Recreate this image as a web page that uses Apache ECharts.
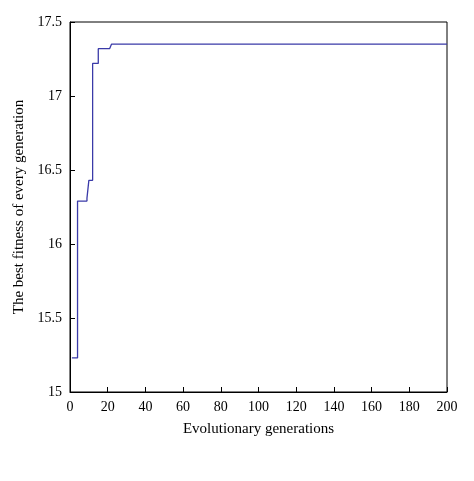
<!DOCTYPE html>
<html><head><meta charset="utf-8">
<script src="https://cdn.jsdelivr.net/npm/echarts@6/dist/echarts.min.js"></script>
<style>html,body{margin:0;background:#fff}#c{width:474px;height:481px}</style>
</head><body><div id="c"></div>
<script>
// generation where the best fitness changes, and the value it takes
var generations = [1, 4, 9, 10, 12, 15, 21, 22, 200];
var fitness = [15.23, 16.29, 16.31, 16.43, 17.22, 17.32, 17.33, 17.35, 17.35];
var yTicks = [15, 15.5, 16, 16.5, 17, 17.5];

var chart = echarts.init(document.getElementById('c'));
var font = 'Liberation Serif';
var axisCommon = {
    axisLine: {onZero: false, lineStyle: {color: '#000'}},
    axisTick: {inside: true, length: 5, lineStyle: {color: '#000'}},
    splitLine: {show: false},
    axisLabel: {color: '#000', fontFamily: font, fontSize: 14}
};
chart.setOption({
    grid: {left: 70, right: 27, top: 22, bottom: 89, show: true, borderColor: '#000', borderWidth: 1},
    xAxis: Object.assign({
        type: 'value', min: 0, max: 200, interval: 20,
        name: 'Evolutionary generations', nameLocation: 'middle', nameGap: 30,
        nameTextStyle: {color: '#000', fontFamily: font, fontSize: 15}
    }, axisCommon),
    yAxis: Object.assign({
        type: 'value', min: 15, max: 17.5, interval: 0.5,
        name: 'The best fitness of every generation', nameLocation: 'middle', nameGap: 40,
        nameTextStyle: {color: '#000', fontFamily: font, fontSize: 15},
        axisLabel: {color: '#000', fontFamily: font, fontSize: 14, formatter: function (v) { return String(v); }}
    }, {axisLine: axisCommon.axisLine, axisTick: axisCommon.axisTick, splitLine: axisCommon.splitLine}),
    series: [{
        type: 'line', step: 'end', showSymbol: false,
        lineStyle: {color: '#3a3aa8', width: 1.3},
        data: generations.map(function (g, i) { return [g, fitness[i]]; })
    }]
});
</script></body></html>
